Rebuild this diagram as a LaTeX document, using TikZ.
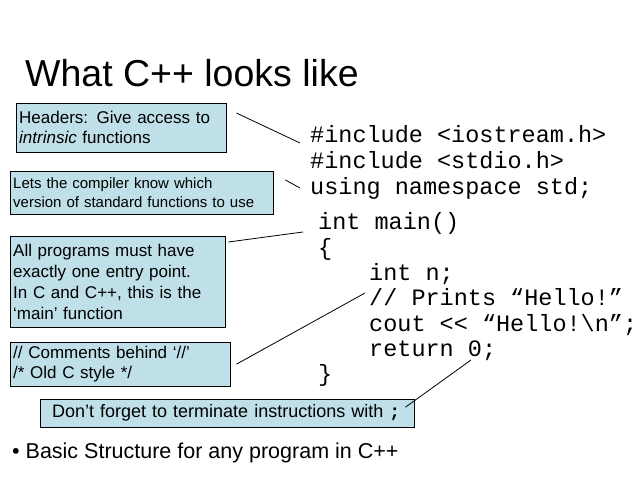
\documentclass[tikz,border=0pt]{standalone}
\usepackage{fontspec}
\setmainfont{Liberation Sans}
\setmonofont{Liberation Mono}
\definecolor{boxblue}{HTML}{BFE0E8}
\begin{document}
\begin{tikzpicture}[x=1pt,y=-1pt,
  note/.style={draw=black,fill=boxblue,inner xsep=3pt,inner ysep=3pt,anchor=north west,align=left,font=\fontsize{17}{20}\selectfont},
  code/.style={anchor=base west,inner sep=0pt,font=\ttfamily\fontsize{23.5}{26}\selectfont},
  lead/.style={draw=black,line width=0.8pt}]
\useasboundingbox (0,0) rectangle (638,479);
\node[anchor=base west,inner sep=0pt,font=\fontsize{37.5}{44}\selectfont] (title) at (25,86) {What C++ looks like};
\node[note,text width=204,minimum height=49] (b1) at (16,103) {Headers: Give access to\\\textit{intrinsic} functions};
\node[note,text width=257,minimum height=43,font=\fontsize{15}{19}\selectfont] (b2) at (10,171) {Lets the compiler know which\\version of standard functions to use};
\node[note,text width=209,minimum height=91,font=\fontsize{17}{21}\selectfont] (b3) at (10,236) {All programs must have\\exactly one entry point.\\In C and C++, this is the\\‘main’ function};
\node[note,text width=214,minimum height=44] (b4) at (10,342) {// Comments behind ‘//’\\/* Old C style */};
\node[note,minimum height=28,inner xsep=12pt,text width=350,font=\fontsize{18}{20}\selectfont] (b5) at (40,399) {Don’t forget to terminate instructions with {\ttfamily\bfseries ;}};
\node[code] (c1) at (310,142) {\#include <iostream.h>};
\node[code] (c2) at (310,168) {\#include <stdio.h>};
\node[code] (c3) at (310,194) {using namespace std;};
\node[code] (c4) at (318,229) {int main()};
\node[code] (c5) at (318,255) {\{};
\node[code] (c6) at (369,280) {int n;};
\node[code] (c7) at (369,305) {// Prints “Hello!”};
\node[code] (c8) at (369,331) {cout << “Hello!\textbackslash n”;};
\node[code] (c9) at (369,356) {return 0;};
\node[code] (c10) at (318,381) {\}};
\node[anchor=base west,inner sep=0pt,font=\fontsize{21.5}{24}\selectfont] (bul) at (12,458) {• Basic Structure for any program in C++};
\coordinate (e1) at (300,143);
\coordinate (e2) at (300,188);
\coordinate (e3) at (303,232);
\coordinate (e4) at (365,293);
\coordinate (e5) at (471,360);
\draw[lead] (b1.north east) ++(10,10) -- (e1);
\draw[lead] (b2.north east) ++(12,9) -- (e2);
\draw[lead] (b3.north east) ++(3,6) -- (e3);
\draw[lead] (b4.east) ++(6,0) -- (e4);
\draw[lead] (b5.east) ++(-9,-6) -- (e5);
\end{tikzpicture}
\end{document}
